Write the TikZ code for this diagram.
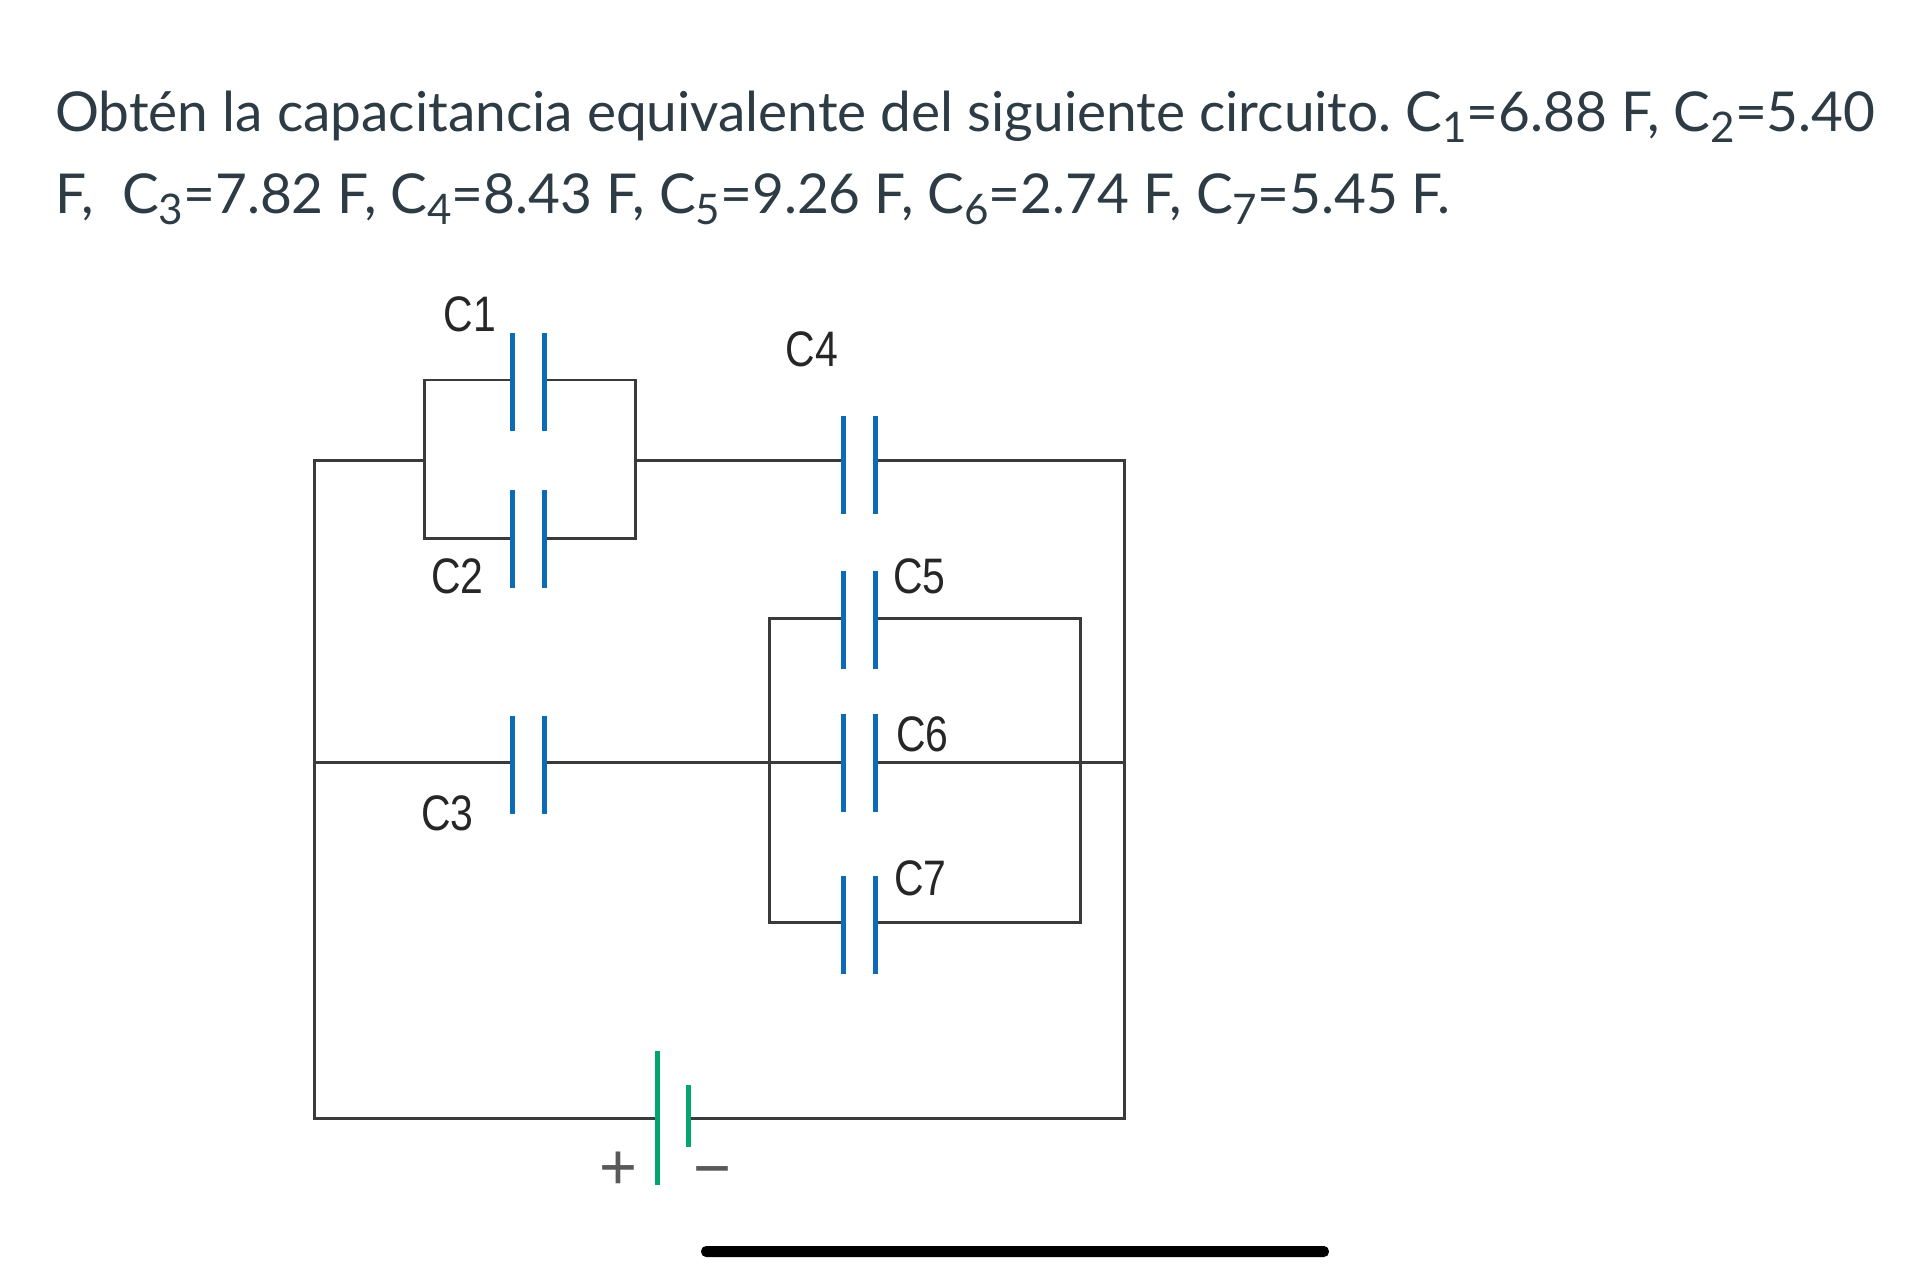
\documentclass[tikz,border=0pt]{standalone}
\usepackage{fontspec}
\setmainfont{Lato}
\newfontfamily\capfont{Liberation Sans}
\definecolor{textgray}{HTML}{2D3B45}
\definecolor{wiregray}{HTML}{3A3A3A}
\definecolor{capblue}{HTML}{0B6CB5}
\definecolor{batgreen}{HTML}{00A66E}
\newcommand{\capsub}[1]{\raisebox{-6.8pt}{\fontsize{24}{24}\selectfont #1}}
\tikzset{
	question/.style={anchor=base west, inner sep=0pt, text=textgray, font=\fontsize{31.3}{36}\selectfont},
	capplate/.style={rectangle, inner sep=0pt, minimum width=0.1cm, minimum height=1.95cm, fill=capblue},
	batlong/.style={rectangle, inner sep=0pt, minimum width=0.1cm, minimum height=2.68cm, fill=batgreen},
	batshort/.style={rectangle, inner sep=0pt, minimum width=0.1cm, minimum height=1.24cm, fill=batgreen},
	capname/.style={inner sep=0pt, xscale=0.82, text=black!85, font=\capfont\fontsize{28.4}{30}\selectfont},
	polarity/.style={inner sep=0pt, text=black!65, font=\capfont\fontsize{37}{40}\selectfont},
}
\frenchspacing

\begin{document}
\begin{tikzpicture}[x=0.02cm, y=-0.02cm, node distance=0.63cm]
	\useasboundingbox (0,0) rectangle (1927,1268);
	
	\node (line1) [question] at (55,131) {Obtén la capacitancia equivalente del siguiente circuito. C\capsub{1}=6.88 F, C\capsub{2}=5.40};
	\node (line2) [question] at (55,213) {F,~~C\capsub{3}=7.82 F, C\capsub{4}=8.43 F, C\capsub{5}=9.26 F, C\capsub{6}=2.74 F, C\capsub{7}=5.45 F.};
	
	% wire corners
	\coordinate (tl) at (314.5,460);
	\coordinate (tr) at (1124,460);
	\coordinate (ml) at (314.5,762);
	\coordinate (mr) at (1124,762);
	\coordinate (bl) at (314.5,1118);
	\coordinate (br) at (1124,1118);
	
	\coordinate (p1l) at (424.5,460);
	\coordinate (p1r) at (635,460);
	\coordinate (p1tl) at (424.5,380);
	\coordinate (p1tr) at (635,380);
	\coordinate (p1bl) at (424.5,538);
	\coordinate (p1br) at (635,538);
	
	\coordinate (p2tl) at (769,618);
	\coordinate (p2tr) at (1080,618);
	\coordinate (p2bl) at (769,922);
	\coordinate (p2br) at (1080,922);
	
	\node (c1a) [capplate] at (512.5,382) {};
	\node (c1b) [capplate, right of=c1a] {};
	\node (c2a) [capplate] at (512.5,539) {};
	\node (c2b) [capplate, right of=c2a] {};
	\node (c3a) [capplate] at (512.5,765) {};
	\node (c3b) [capplate, right of=c3a] {};
	\node (c4a) [capplate] at (843.5,465) {};
	\node (c4b) [capplate, right of=c4a] {};
	\node (c5a) [capplate] at (843.5,620) {};
	\node (c5b) [capplate, right of=c5a] {};
	\node (c6a) [capplate] at (843.5,763) {};
	\node (c6b) [capplate, right of=c6a] {};
	\node (c7a) [capplate] at (843.5,925) {};
	\node (c7b) [capplate, right of=c7a] {};
	
	\node (batp) [batlong] at (657.5,1118) {};
	\node (batn) [batshort] at (688.5,1116) {};
	
	\node (lc1) [capname] at (470,314) {C1};
	\node (lc2) [capname] at (457.5,576) {C2};
	\node (lc3) [capname] at (447.5,813) {C3};
	\node (lc4) [capname] at (812,349) {C4};
	\node (lc5) [capname] at (919.5,576) {C5};
	\node (lc6) [capname] at (922.5,734) {C6};
	\node (lc7) [capname] at (920.5,878) {C7};
	
	\node (plus) [polarity] at (618,1171) {+};
	\node (minus) [polarity] at (712,1179) {−};
	
	\node (homebar) [rectangle, inner sep=0pt, minimum width=12.56cm, minimum height=0.22cm, rounded corners=0.1cm, fill=black] at (1015,1251.5) {};
	
	\begin{scope}[wiregray, line width=1.7pt]
		% outer loop
		\draw (p1l) -- (tl) -- (bl) -- (batp.west |- bl);
		\draw (batn.east |- br) -- (br) -- (tr) -- (c4b.east |- tr);
		\draw (c4a.west |- p1r) -- (p1r);
		
		% C1 and C2
		\draw (c1a.west |- p1tl) -- (p1tl) -- (p1bl) -- (c2a.west |- p1bl);
		\draw (c1b.east |- p1tr) -- (p1tr) -- (p1br) -- (c2b.east |- p1br);
		
		% middle branch
		\draw (ml) -- (c3a.west |- ml);
		\draw (c3b.east |- ml) -- (c6a.west |- ml);
		\draw (c6b.east |- mr) -- (mr);
		
		% C5, C6 and C7
		\draw (c5a.west |- p2tl) -- (p2tl) -- (p2bl) -- (c7a.west |- p2bl);
		\draw (c5b.east |- p2tr) -- (p2tr) -- (p2br) -- (c7b.east |- p2br);
	\end{scope}
	
\end{tikzpicture}
\end{document}
